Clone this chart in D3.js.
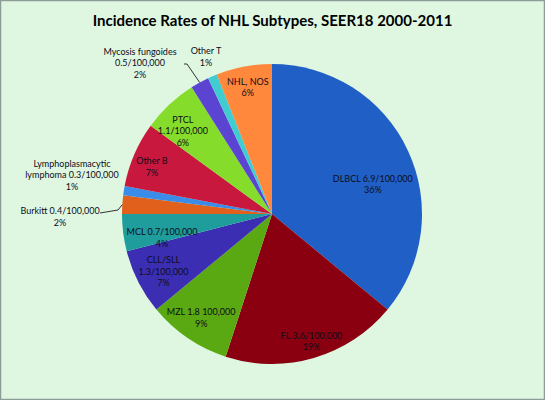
<!DOCTYPE html>
<html>
<head>
<meta charset="utf-8">
<script src="https://cdn.jsdelivr.net/npm/d3@7"></script>
<style>
  body { margin: 0; background: #fff; }
  svg text { font-family: Lato, "Open Sans", sans-serif; }
</style>
</head>
<body>
<div id="chart"></div>
<script>
// slices, clockwise from 12 o'clock
const subtypes = ["DLBCL", "FL", "MZL", "CLL/SLL", "MCL", "Burkitt", "Lymphoplasmacytic",
                  "Other B", "PTCL", "Mycosis fungoides", "Other T", "NHL, NOS"];
const shares = [36, 19, 9, 7, 4, 2, 1, 7, 6, 2, 1, 6];
const labelLines = [
  ["DLBCL  6.9/100,000", "36%"],
  ["FL 3.6/100,000", "19%"],
  ["MZL 1.8 100,000", "9%"],
  ["CLL/SLL", "1.3/100,000", "7%"],
  ["MCL 0.7/100,000", "4%"],
  ["Burkitt 0.4/100,000", "2%"],
  ["Lymphoplasmacytic", "lymphoma 0.3/100,000", "1%"],
  ["Other B", "7%"],
  ["PTCL", "1.1/100,000", "6%"],
  ["Mycosis fungoides", "0.5/100,000", "2%"],
  ["Other T", "1%"],
  ["NHL, NOS", "6%"]
];
const colors = ["#1f5fc6", "#8a0010", "#5aa812", "#3b2eb2", "#1f9c9c", "#e0601c",
                "#3a8ce8", "#c8183e", "#86dc2a", "#5c44d2", "#40ccd0", "#ff883c"];

// label placement: [angle offset deg, radius factor] ; outside ones use [angle deg, dist px]
const labelLayout = [
  {da: 9, rf: 0.70}, {da: -1, rf: 0.89}, {da: 0, rf: 0.84}, {da: -1, rf: 0.82},
  {da: -5, rf: 0.75},
  {out: true, x: -212, y: 3, lead: [[-172, -1], [-154, -4]]},
  {out: true, x: -200, y: -39},
  {da: -2, rf: 0.86}, {da: -4, rf: 0.81},
  {out: true, x: -132, y: -151, lead: [[-88, -150], [-85, -150]]},
  {out: true, x: -66, y: -157},
  {da: 0, rf: 0.86}
];

const width = 545, height = 400;
const cx = 272, cy = 214, radius = 150;

const svg = d3.select("#chart").append("svg")
  .attr("width", width)
  .attr("height", height);

svg.append("rect")
  .attr("x", 0.5).attr("y", 0.5)
  .attr("width", width - 1).attr("height", height - 1)
  .attr("fill", "#dff7e1")
  .attr("stroke", "#8e9c98")
  .attr("stroke-width", 1.5);

svg.append("text")
  .attr("x", width / 2)
  .attr("y", 26)
  .attr("text-anchor", "middle")
  .attr("font-size", "15px")
  .attr("font-weight", "bold")
  .attr("fill", "#000")
  .text("Incidence Rates of NHL Subtypes, SEER18 2000-2011");

const data = subtypes.map((s, i) => ({name: s, value: shares[i], lines: labelLines[i], color: colors[i], lay: labelLayout[i]}));

const pie = d3.pie().value(d => d.value).sort(null);
const arc = d3.arc().innerRadius(0).outerRadius(radius);
const arcs = pie(data);

const g = svg.append("g").attr("transform", `translate(${cx},${cy})`);

g.selectAll("path.slice")
  .data(arcs)
  .join("path")
    .attr("class", "slice")
    .attr("d", arc)
    .attr("fill", d => d.data.color);

const lineH = 11.5;
arcs.forEach(a => {
  const lay = a.data.lay;
  const mid = (a.startAngle + a.endAngle) / 2;
  let x, y;
  if (lay.out) {
    x = lay.x; y = lay.y;
    if (lay.lead) {
      const edge = [radius * Math.sin(mid), -radius * Math.cos(mid)];
      const pts = lay.lead.concat([edge]);
      g.append("path")
        .attr("d", d3.line()(pts))
        .attr("fill", "none")
        .attr("stroke", "#333")
        .attr("stroke-width", 1);
    }
  } else {
    const ang = mid + lay.da * Math.PI / 180;
    const r = radius * lay.rf;
    x = r * Math.sin(ang);
    y = -r * Math.cos(ang);
  }
  const n = a.data.lines.length;
  const t = g.append("text")
    .attr("text-anchor", "middle")
    .attr("font-size", "9px")
    .attr("fill", "#0d0d1a");
  a.data.lines.forEach((ln, i) => {
    t.append("tspan")
      .attr("x", x)
      .attr("y", y + (i - (n - 1) / 2) * lineH + 3)
      .text(ln);
  });
});
</script>
</body>
</html>
